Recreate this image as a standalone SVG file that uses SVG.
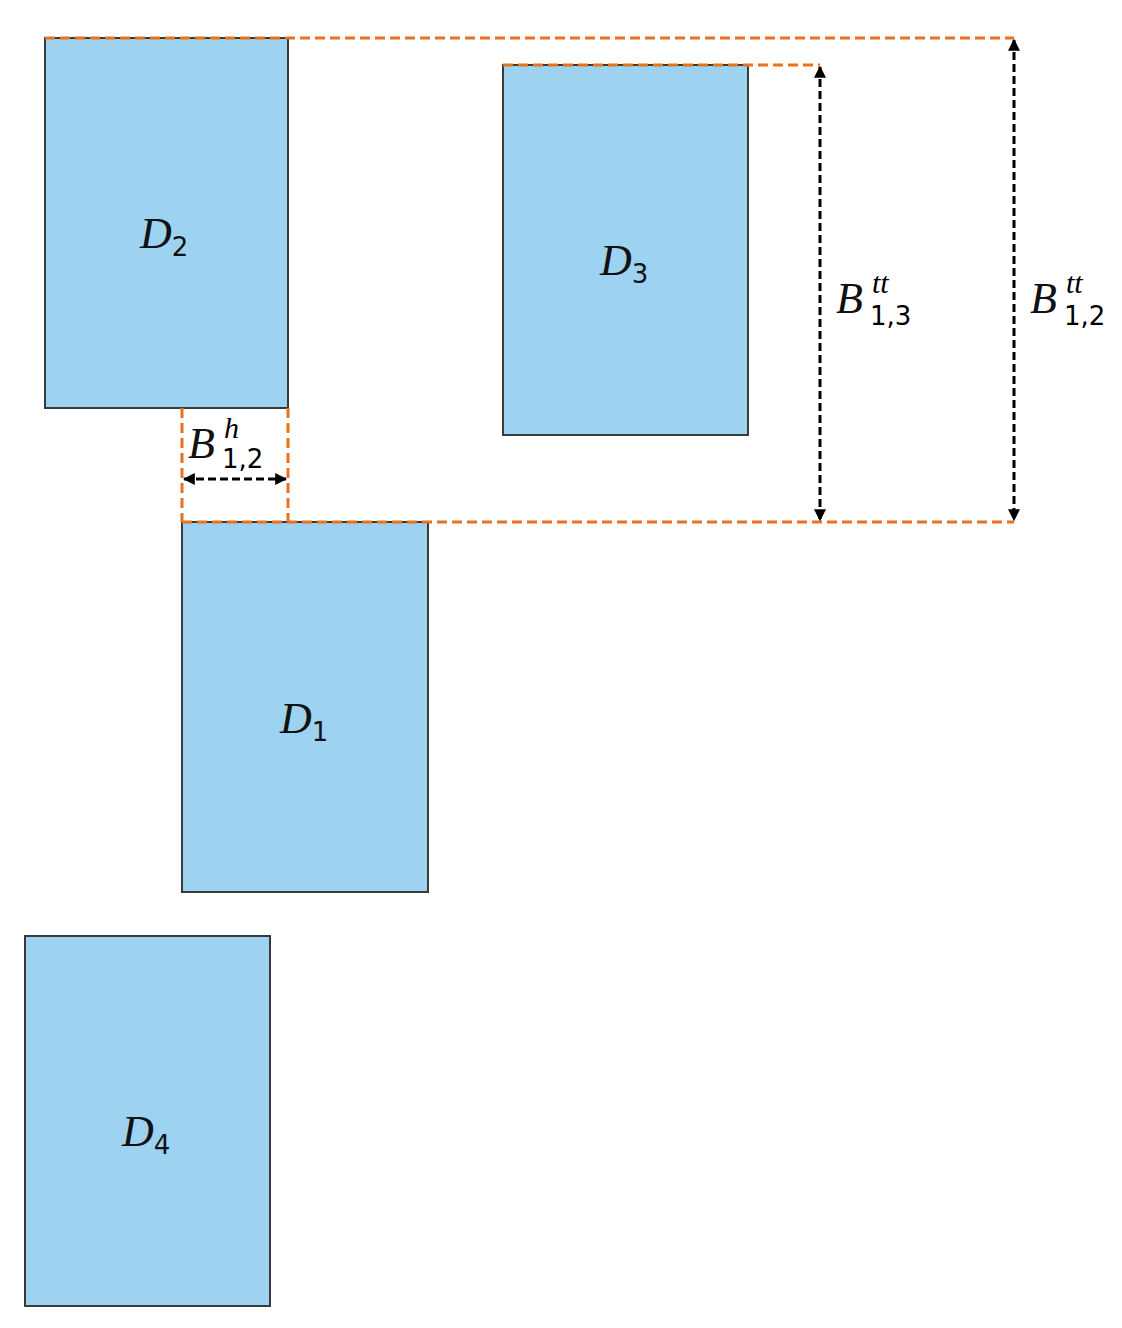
<svg xmlns="http://www.w3.org/2000/svg" width="1122" height="1328" viewBox="0 0 1122 1328">
<style>
.box{fill:#9dd3f1;stroke:#3a3a3a;stroke-width:2}
.or{stroke:#e8731c;stroke-width:3;stroke-dasharray:10,5;fill:none}
.ar{stroke:#000;stroke-width:3;stroke-dasharray:8,4;fill:none}
.t{font-family:"Liberation Serif",serif;font-style:italic;font-size:44px;fill:#111}
.s{font-family:"DejaVu Sans",sans-serif;font-style:normal;font-size:26px}
.p{font-family:"Liberation Serif",serif;font-style:italic;font-size:30px}
</style>
<defs>
<marker id="ah" viewBox="0 0 10 10" refX="9" refY="5" markerWidth="4" markerHeight="4" orient="auto-start-reverse"><path d="M0,0L10,5L0,10z" fill="#000"/></marker>
</defs>
<g id="D2"><rect class="box" x="45" y="38" width="243" height="370"/><text class="t" x="140" y="248">D<tspan class="s" dy="8">2</tspan></text></g>
<g id="D3"><rect class="box" x="503" y="65" width="245" height="370"/><text class="t" x="600" y="275">D<tspan class="s" dy="8">3</tspan></text></g>
<g id="D1"><rect class="box" x="182" y="522" width="246" height="370"/><text class="t" x="280" y="733">D<tspan class="s" dy="8">1</tspan></text></g>
<g id="D4"><rect class="box" x="25" y="936" width="245" height="370"/><text class="t" x="122" y="1146">D<tspan class="s" dy="8">4</tspan></text></g>
<g id="connectors">
<path class="or" d="M45,38H1014M503,65H820M182,522H1014M182,408V522M288,408V522"/>
<line class="ar" x1="184" y1="479" x2="286" y2="479" marker-start="url(#ah)" marker-end="url(#ah)"/>
<line class="ar" x1="820" y1="67" x2="820" y2="520" marker-start="url(#ah)" marker-end="url(#ah)"/>
<line class="ar" x1="1014" y1="40" x2="1014" y2="520" marker-start="url(#ah)" marker-end="url(#ah)"/>
</g>
<g id="labels">
<text class="t" x="188" y="458">B</text><text class="p" x="224" y="438">h</text><text class="s" x="222" y="468">1,2</text>
<text class="t" x="836" y="313">B</text><text class="p" x="872" y="293">tt</text><text class="s" x="870" y="325">1,3</text>
<text class="t" x="1030" y="313">B</text><text class="p" x="1066" y="293">tt</text><text class="s" x="1064" y="325">1,2</text>
</g>
</svg>
